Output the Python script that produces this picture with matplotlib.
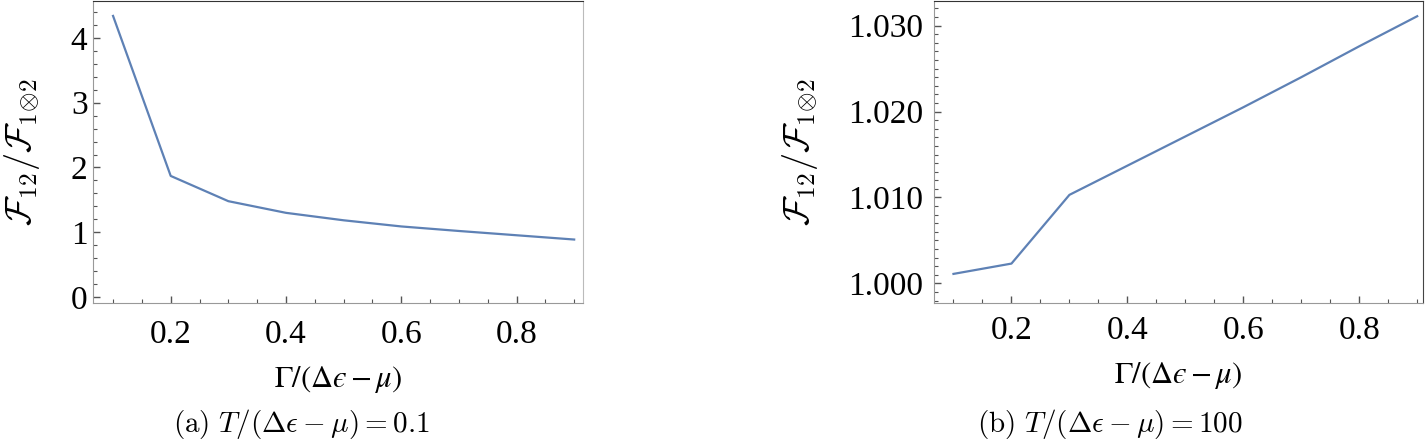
import numpy as np
import matplotlib.pyplot as plt
from matplotlib.ticker import MultipleLocator, FormatStrFormatter

gamma = [0.1, 0.2, 0.3, 0.4, 0.5, 0.6, 0.7, 0.8, 0.9]
ratio_low_T = [4.34, 1.87, 1.48, 1.30, 1.185, 1.09, 1.02, 0.954, 0.888]
ratio_high_T = [1.0011, 1.0023, 1.0103, 1.0137, 1.0171, 1.0205, 1.0240, 1.0276, 1.0311]

line_color = "#5E81B5"
ylabel = r"$\mathcal{F}_{12}/\mathcal{F}_{1\!\otimes\!2}$"
xlabel = "$\\Gamma/(\\Delta\u03f5-\\mu)$"
captions = [r"$\mathrm{(a)}\ T/(\Delta\epsilon-\mu)=0.1$",
            r"$\mathrm{(b)}\ T/(\Delta\epsilon-\mu)=100$"]

plt.rcParams["font.family"] = ["Liberation Serif", "DejaVu Serif"]

fig = plt.figure(figsize=(14.25, 4.41), dpi=100)
ax1 = fig.add_axes([0.0653, 0.3129, 0.3439, 0.6848])
ax2 = fig.add_axes([0.6554, 0.3129, 0.3432, 0.6848])


def style(ax):
    for side in ["left", "bottom"]:
        ax.spines[side].set_color("#999999")
    ax.spines["top"].set_color("#333333")
    ax.tick_params(which="both", direction="in", top=False, right=False,
                   colors="#555555", labelcolor="black", labelsize=24)
    ax.tick_params(which="major", length=5, width=1)
    ax.tick_params(which="minor", length=3, width=0.8)
    ax.xaxis.set_major_locator(MultipleLocator(0.2))
    ax.xaxis.set_minor_locator(MultipleLocator(0.05))
    ax.xaxis.set_major_formatter(FormatStrFormatter("%.1f"))


ax1.plot(gamma, ratio_low_T, color=line_color, lw=1.6)
ax1.set_xlim(0.0653, 0.9155)
ax1.set_ylim(-0.092, 4.57)
style(ax1)
ax1.spines["right"].set_color("#bbbbbb")
ax1.yaxis.set_major_locator(MultipleLocator(1))
ax1.yaxis.set_minor_locator(MultipleLocator(0.2))
ax1.tick_params(axis="y", pad=4)
ax1.tick_params(axis="x", pad=12)

ax2.plot(gamma, ratio_high_T, color=line_color, lw=1.6)
ax2.set_xlim(0.0663, 0.910)
ax2.set_ylim(0.99771, 1.03287)
style(ax2)
ax2.spines["right"].set_color("#444444")
ax2.yaxis.set_major_locator(MultipleLocator(0.01))
ax2.yaxis.set_minor_locator(MultipleLocator(0.001))
ax2.yaxis.set_major_formatter(FormatStrFormatter("%.3f"))
ax2.tick_params(axis="y", pad=8)
ax2.tick_params(axis="x", pad=9)

for ax, xpos in ((ax1, -0.104), (ax2, -0.233)):
    ax.set_ylabel(ylabel, fontsize=26, math_fontfamily="cm")
    ax.yaxis.set_label_coords(xpos, 0.5)
    ax.set_xlabel(xlabel, fontsize=22, math_fontfamily="stix", labelpad=10)

fig.text(301 / 1425, 1 - 432 / 441, captions[0], fontsize=21,
         math_fontfamily="cm", ha="center", va="baseline")
fig.text(1110 / 1425, 1 - 432 / 441, captions[1], fontsize=21,
         math_fontfamily="cm", ha="center", va="baseline")

fig.savefig("out.png", dpi=100)
